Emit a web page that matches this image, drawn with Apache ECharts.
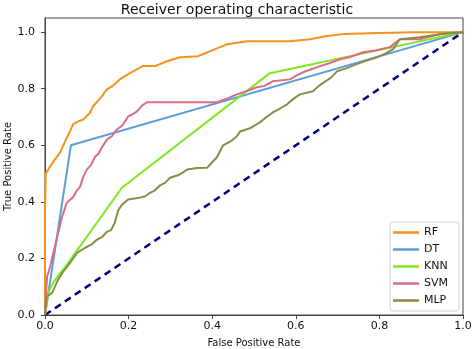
<!DOCTYPE html>
<html><head><meta charset="utf-8">
<script src="https://cdn.jsdelivr.net/npm/echarts@6/dist/echarts.min.js"></script>
<style>html,body{margin:0;padding:0;background:#fff}#c{width:474px;height:349px}</style>
</head><body><div id="c"></div>
<script>
const seriesNames = ['RF', 'DT', 'KNN', 'SVM', 'MLP'];
const xTicks = [0, 0.2, 0.4, 0.6, 0.8, 1.0];
const yTicks = [0, 0.2, 0.4, 0.6, 0.8, 1.0];

const rfData = [[0,0],[0,0.38],[0.002,0.5],[0.01,0.52],[0.024,0.55],[0.036,0.574],[0.05,0.62],[0.06,0.65],[0.067,0.674],[0.08,0.685],[0.091,0.69],[0.108,0.716],[0.115,0.738],[0.136,0.773],[0.148,0.798],[0.16,0.808],[0.179,0.833],[0.203,0.855],[0.234,0.88],[0.263,0.88],[0.292,0.897],[0.323,0.911],[0.366,0.915],[0.378,0.922],[0.407,0.94],[0.435,0.957],[0.483,0.968],[0.586,0.968],[0.634,0.975],[0.675,0.986],[0.713,0.993],[0.778,0.996],[0.88,1.0],[1,1]];
const dtData = [[0,0],[0.062,0.6],[1,1]];
const knnData = [[0,0],[0.008,0.08],[0.022,0.12],[0.052,0.177],[0.184,0.45],[0.538,0.855],[1,1]];
const svmData = [[0,0],[0.003,0.09],[0.005,0.135],[0.012,0.17],[0.02,0.22],[0.03,0.28],[0.04,0.343],[0.052,0.397],[0.068,0.418],[0.076,0.44],[0.084,0.454],[0.092,0.49],[0.1,0.514],[0.11,0.53],[0.12,0.56],[0.128,0.57],[0.136,0.592],[0.148,0.62],[0.16,0.632],[0.172,0.656],[0.185,0.67],[0.199,0.702],[0.21,0.71],[0.22,0.72],[0.232,0.74],[0.244,0.752],[0.411,0.752],[0.435,0.765],[0.459,0.78],[0.48,0.79],[0.507,0.805],[0.525,0.81],[0.545,0.826],[0.586,0.833],[0.6,0.845],[0.617,0.858],[0.658,0.88],[0.68,0.89],[0.706,0.904],[0.73,0.912],[0.761,0.929],[0.79,0.935],[0.825,0.947],[0.849,0.975],[0.897,0.975],[0.945,0.993],[1,1]];
const mlpData = [[0,0],[0.004,0.065],[0.017,0.078],[0.031,0.124],[0.043,0.152],[0.06,0.184],[0.077,0.22],[0.1,0.241],[0.112,0.25],[0.124,0.266],[0.136,0.275],[0.148,0.294],[0.158,0.3],[0.167,0.326],[0.175,0.37],[0.184,0.39],[0.199,0.408],[0.227,0.415],[0.24,0.42],[0.251,0.432],[0.262,0.44],[0.275,0.458],[0.288,0.468],[0.299,0.485],[0.32,0.495],[0.34,0.514],[0.365,0.52],[0.388,0.521],[0.4,0.54],[0.411,0.557],[0.426,0.6],[0.445,0.615],[0.458,0.63],[0.467,0.649],[0.49,0.66],[0.514,0.681],[0.53,0.7],[0.545,0.716],[0.562,0.73],[0.579,0.745],[0.595,0.765],[0.61,0.78],[0.641,0.791],[0.655,0.81],[0.67,0.825],[0.685,0.84],[0.699,0.862],[0.72,0.872],[0.746,0.887],[0.77,0.9],[0.794,0.911],[0.815,0.925],[0.833,0.94],[0.849,0.975],[0.897,0.982],[0.962,0.996],[1,1]];
const chanceData = [[0,0],[1,1]];

const colors = ['#f7901e', '#5a9fd6', '#7de823', '#dd6a87', '#8c8a45'];
const allData = [rfData, dtData, knnData, svmData, mlpData];

const font = 'DejaVu Sans';
const chart = echarts.init(document.getElementById('c'), null, {renderer: 'canvas'});
const fmt = v => {
  const ok = yTicks.some(t => Math.abs(t - v) < 1e-6);
  return ok ? v.toFixed(1) : '';
};
const series = seriesNames.map((n, i) => ({
  name: n, type: 'line', data: allData[i], showSymbol: false, symbol: 'none',
  lineStyle: {color: colors[i], width: 2}, itemStyle: {color: colors[i]}, z: 3 + i, animation: false
}));
series.push({
  name: 'chance', type: 'line', data: chanceData, showSymbol: false, symbol: 'none',
  lineStyle: {color: '#000080', width: 2.5, type: [7, 5]}, z: 2, animation: false
});

chart.setOption({
  animation: false,
  backgroundColor: '#fff',
  title: {text: 'Receiver operating characteristic', left: 'center', top: -2,
    textStyle: {fontFamily: font, fontSize: 14, fontWeight: 'normal', color: '#111'}},
  grid: {left: 45, right: 11, top: 18, bottom: 34, containLabel: false, outerBoundsMode: 'none',
    show: true, borderColor: '#444', borderWidth: 1},
  legend: {
    data: seriesNames, orient: 'vertical', left: 390, top: 222,
    icon: 'rect', itemWidth: 26, itemHeight: 2.5, itemGap: 6,
    backgroundColor: '#fff', borderColor: '#d0d0d0', borderWidth: 1, borderRadius: 3,
    padding: [5, 11, 5, 3],
    textStyle: {fontFamily: font, fontSize: 11, color: '#111'}
  },
  xAxis: {
    type: 'value', min: 0, max: 1, interval: 0.2,
    name: 'False Positive Rate', nameLocation: 'middle', nameGap: 23, nameMoveOverlap: false,
    nameTextStyle: {fontFamily: font, fontSize: 10, color: '#111'},
    axisLine: {show: true, lineStyle: {color: '#444'}},
    axisTick: {show: true, length: 4, lineStyle: {color: '#444'}},
    axisLabel: {fontFamily: font, fontSize: 11, color: '#111', margin: 6, formatter: v => v.toFixed(1)},
    splitLine: {show: false}
  },
  yAxis: {
    type: 'value', min: 0, max: 1.05, interval: 0.2,
    name: 'True Positive Rate', nameLocation: 'middle', nameGap: 32, nameMoveOverlap: false,
    nameTextStyle: {fontFamily: font, fontSize: 10, color: '#111'},
    axisLine: {show: true, lineStyle: {color: '#444'}},
    axisTick: {show: true, length: 4, lineStyle: {color: '#444'}},
    axisLabel: {fontFamily: font, fontSize: 11, color: '#111', margin: 10, formatter: fmt, showMaxLabel: false},
    splitLine: {show: false}
  },
  series: series
});
</script>
</body></html>
